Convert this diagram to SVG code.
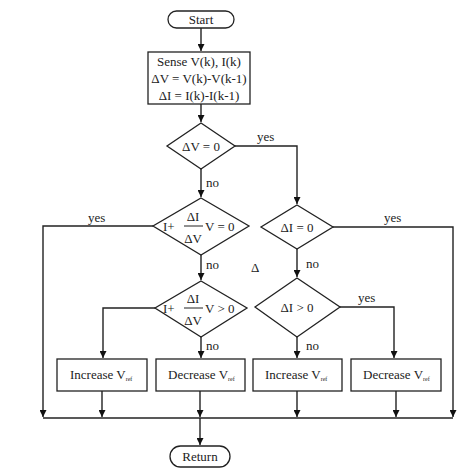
<svg xmlns="http://www.w3.org/2000/svg" width="474" height="474" viewBox="0 0 474 474">
<defs>
<marker id="ah" viewBox="0 0 10 10" refX="10" refY="5" markerWidth="7" markerHeight="7" markerUnits="userSpaceOnUse" orient="auto">
<path d="M0,0 L10,5 L0,10 z" fill="#111"/>
</marker>
<style>
.s{fill:#fff;stroke:#222;stroke-width:1.3}
.c{fill:none;stroke:#222;stroke-width:1.4}
.t{font-family:"Liberation Serif","Times New Roman",serif;font-size:13px;fill:#222}
.m{text-anchor:middle}
.sub{font-size:6px}
</style>
</defs>
<rect width="474" height="474" fill="#fff"/>
<g id="connectors">
<path class="c" d="M201,28 V51" marker-end="url(#ah)"/>
<path class="c" d="M201,104 V122" marker-end="url(#ah)"/>
<path class="c" d="M235,146 H297 V204" marker-end="url(#ah)"/>
<path class="c" d="M201,169 V197" marker-end="url(#ah)"/>
<path class="c" d="M153,226 H43 V417" marker-end="url(#ah)"/>
<path class="c" d="M201,255 V280" marker-end="url(#ah)"/>
<path class="c" d="M155,308 H103 V358" marker-end="url(#ah)"/>
<path class="c" d="M201,337 V358" marker-end="url(#ah)"/>
<path class="c" d="M333,227 H453 V417" marker-end="url(#ah)"/>
<path class="c" d="M297,249 V277" marker-end="url(#ah)"/>
<path class="c" d="M340,307 H394 V358" marker-end="url(#ah)"/>
<path class="c" d="M297,337 V358" marker-end="url(#ah)"/>
<path class="c" d="M102,391 V417" marker-end="url(#ah)"/>
<path class="c" d="M200,391 V417" marker-end="url(#ah)"/>
<path class="c" d="M297,391 V417" marker-end="url(#ah)"/>
<path class="c" d="M396,391 V417" marker-end="url(#ah)"/>
<path class="c" d="M43,418 H453"/>
<path class="c" d="M200,418 V445" marker-end="url(#ah)"/>
<text class="t" x="257" y="141">yes</text>
<text class="t" x="206" y="187">no</text>
<text class="t" x="88" y="222">yes</text>
<text class="t" x="206" y="269">no</text>
<text class="t" x="206" y="350">no</text>
<text class="t" x="384" y="222">yes</text>
<text class="t" x="306" y="268">no</text>
<text class="t" x="358" y="302">yes</text>
<text class="t" x="306" y="350">no</text>
<text class="t" x="251" y="272">Δ</text>
</g>
<g id="start">
<rect class="s" x="168" y="11" width="66" height="17" rx="8.5"/>
<text class="t m" x="201" y="24">Start</text>
</g>
<g id="sense">
<rect class="s" x="148" y="52" width="102" height="52"/>
<text class="t m" x="199" y="66">Sense V(k), I(k)</text>
<text class="t m" x="199" y="83">ΔV = V(k)-V(k-1)</text>
<text class="t m" x="199" y="100">ΔI = I(k)-I(k-1)</text>
</g>
<g id="dv0">
<polygon class="s" points="201,123 235,146 201,169 167,146"/>
<text class="t m" x="201" y="151">ΔV = 0</text>
</g>
<g id="cond1">
<polygon class="s" points="201,198 249,226 201,255 153,226"/>
<text class="t" x="163" y="231">I+</text>
<text class="t m" x="193" y="221">ΔI</text>
<line x1="184" y1="226" x2="203" y2="226" stroke="#222" stroke-width="1"/>
<text class="t m" x="193" y="243">ΔV</text>
<text class="t" x="205" y="231">V = 0</text>
</g>
<g id="cond2">
<polygon class="s" points="201,281 247,308 201,337 155,308"/>
<text class="t" x="163" y="313">I+</text>
<text class="t m" x="193" y="303">ΔI</text>
<line x1="184" y1="308" x2="203" y2="308" stroke="#222" stroke-width="1"/>
<text class="t m" x="193" y="325">ΔV</text>
<text class="t" x="205" y="313">V &gt; 0</text>
</g>
<g id="di0">
<polygon class="s" points="297,205 333,227 297,249 261,227"/>
<text class="t m" x="297" y="232">ΔI = 0</text>
</g>
<g id="dig0">
<polygon class="s" points="297,278 340,307 297,337 255,307"/>
<text class="t m" x="297" y="312">ΔI &gt; 0</text>
</g>
<g id="inc1">
<rect class="s" x="57" y="359" width="90" height="32"/>
<text class="t" x="70" y="379">Increase V<tspan class="sub" dy="2">ref</tspan></text>
</g>
<g id="dec1">
<rect class="s" x="156" y="359" width="89" height="32"/>
<text class="t" x="168" y="379">Decrease V<tspan class="sub" dy="2">ref</tspan></text>
</g>
<g id="inc2">
<rect class="s" x="253" y="359" width="89" height="32"/>
<text class="t" x="265" y="379">Increase V<tspan class="sub" dy="2">ref</tspan></text>
</g>
<g id="dec2">
<rect class="s" x="351" y="359" width="90" height="32"/>
<text class="t" x="363" y="379">Decrease V<tspan class="sub" dy="2">ref</tspan></text>
</g>
<g id="return">
<rect class="s" x="170" y="446" width="60" height="21" rx="10.5"/>
<text class="t m" x="200" y="461">Return</text>
</g>
</svg>
